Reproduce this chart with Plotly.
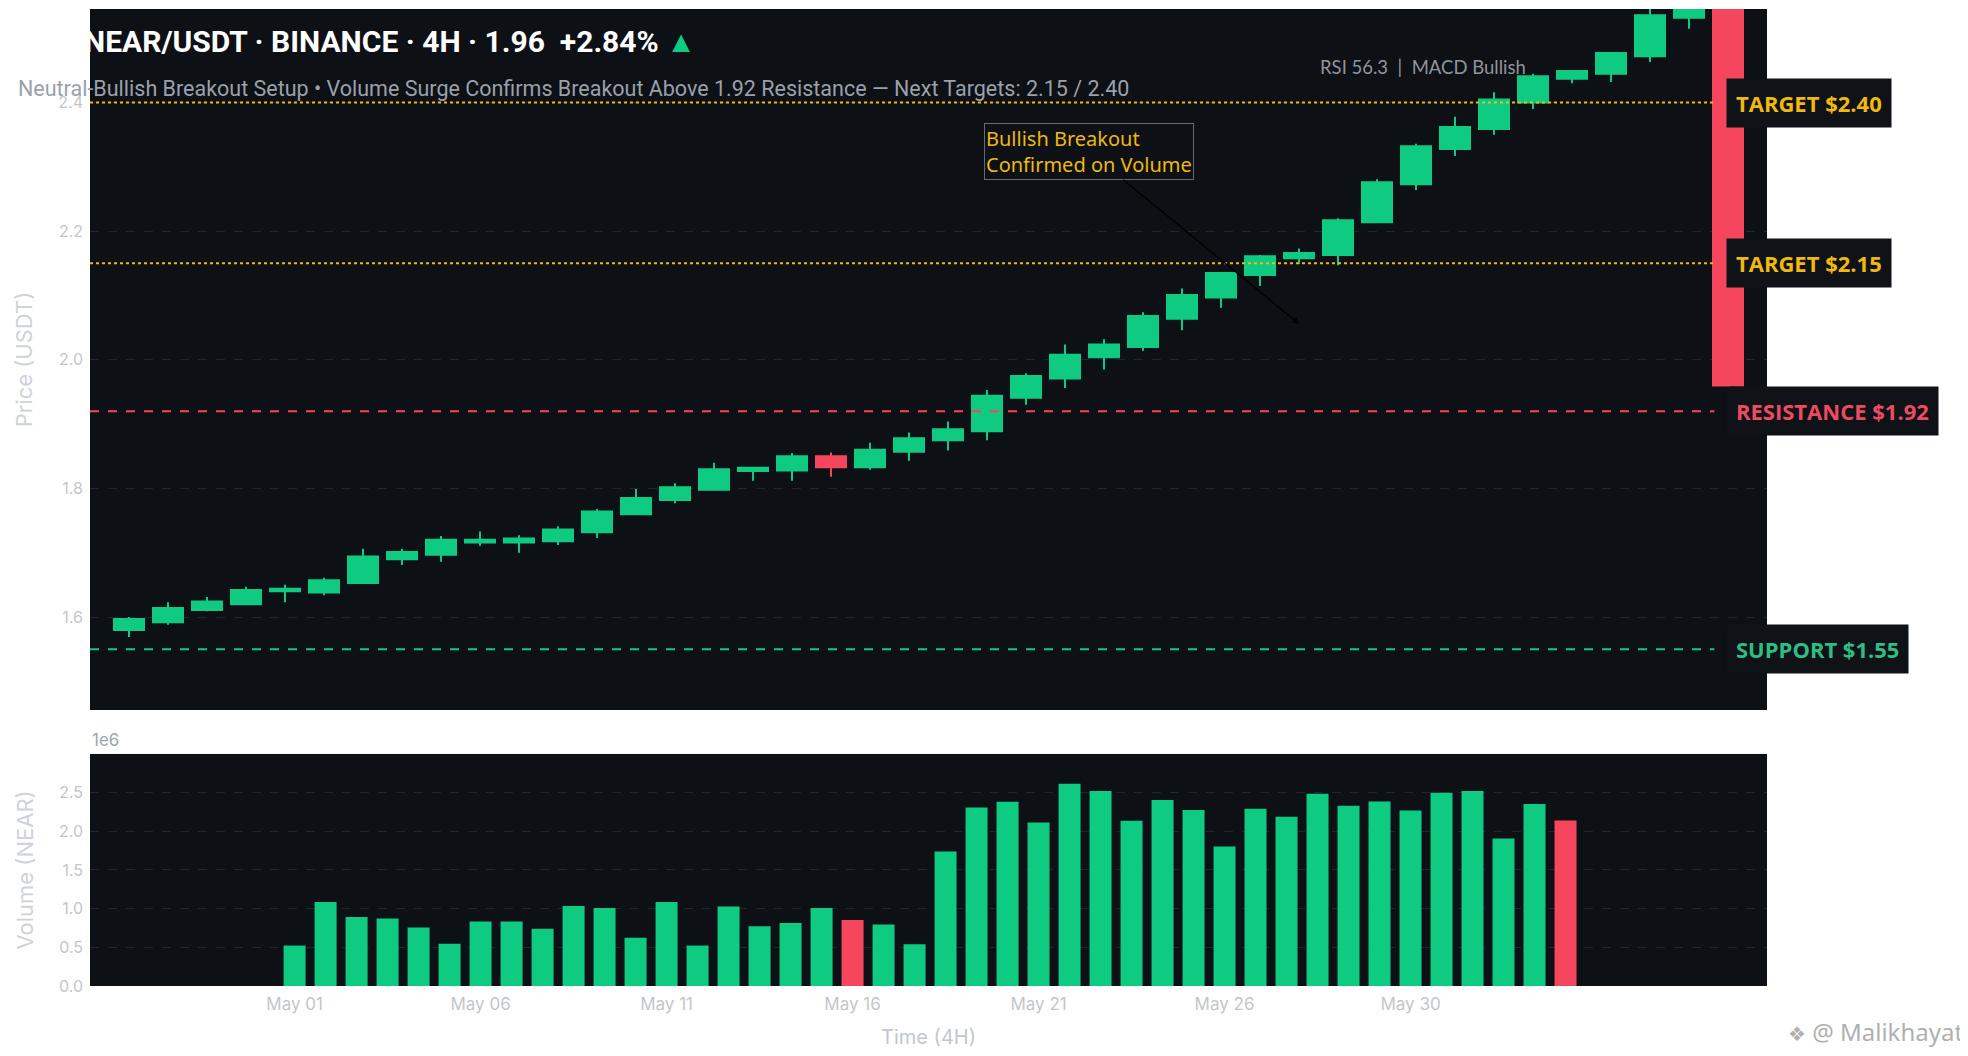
import plotly.graph_objects as go
from plotly.subplots import make_subplots

# 4H candles (index 0..41)
opens = [1.580, 1.592, 1.611, 1.620, 1.640, 1.638, 1.653, 1.690, 1.697, 1.716,
         1.716, 1.718, 1.732, 1.760, 1.782, 1.798, 1.827, 1.828, 1.850, 1.833,
         1.857, 1.875, 1.889, 1.941, 1.971, 2.004, 2.020, 2.064, 2.097, 2.132,
         2.158, 2.163, 2.214, 2.273, 2.328, 2.359, 2.400, 2.437, 2.445, 2.472,
         2.532, 2.620]
highs = [1.600, 1.623, 1.631, 1.647, 1.650, 1.661, 1.706, 1.706, 1.726, 1.733,
         1.727, 1.741, 1.768, 1.799, 1.808, 1.840, 1.833, 1.855, 1.856, 1.871,
         1.887, 1.904, 1.953, 1.979, 2.024, 2.032, 2.074, 2.111, 2.136, 2.163,
         2.173, 2.220, 2.281, 2.336, 2.378, 2.416, 2.445, 2.450, 2.478, 2.552,
         2.580, 2.630]
lows = [1.569, 1.588, 1.609, 1.619, 1.623, 1.634, 1.652, 1.681, 1.686, 1.711,
        1.700, 1.712, 1.723, 1.760, 1.777, 1.798, 1.812, 1.812, 1.818, 1.829,
        1.843, 1.859, 1.875, 1.930, 1.956, 1.985, 2.014, 2.046, 2.081, 2.115,
        2.149, 2.147, 2.213, 2.264, 2.317, 2.350, 2.390, 2.430, 2.432, 2.463,
        2.515, 1.955]
closes = [1.597, 1.614, 1.624, 1.642, 1.644, 1.657, 1.694, 1.701, 1.720, 1.720,
          1.722, 1.736, 1.764, 1.785, 1.802, 1.830, 1.832, 1.850, 1.833, 1.860,
          1.878, 1.892, 1.944, 1.975, 2.008, 2.024, 2.068, 2.101, 2.135, 2.161,
          2.166, 2.217, 2.276, 2.332, 2.362, 2.405, 2.441, 2.449, 2.477, 2.536,
          2.565, 1.960]
# volume in millions (axis shows 1e6 offset)
volumes = [0.523, 1.085, 0.891, 0.873, 0.757, 0.545, 0.834, 0.834, 0.739, 1.033,
           1.007, 0.623, 1.085, 0.523, 1.029, 0.774, 0.813, 1.007, 0.852, 0.795,
           0.541, 1.738, 2.309, 2.382, 2.114, 2.616, 2.520, 2.136, 2.404, 2.274,
           1.803, 2.291, 2.188, 2.486, 2.330, 2.386, 2.270, 2.499, 2.520, 1.907,
           2.352, 2.140]
candle_idx = list(range(len(closes)))

tick_pos = [0, 6, 12, 18, 24, 30, 36]
tick_labels = ["May 01", "May 06", "May 11", "May 16", "May 21", "May 26", "May 30"]

levels = [2.40, 2.15, 1.92, 1.55]
level_names = ["TARGET $2.40", "TARGET $2.15", "RESISTANCE $1.92", "SUPPORT $1.55"]

GREEN = "#0ECB81"
RED = "#F6465D"
GOLD = "#F0B90B"
BG = "#0d1015"
GRID = "rgba(255,255,255,0.09)"
TICK = "#c3c6cb"

fig = make_subplots(rows=2, cols=1, shared_xaxes=False)

fig.add_trace(go.Candlestick(
    x=candle_idx, open=opens, high=highs, low=lows, close=closes,
    increasing=dict(line=dict(color=GREEN, width=2), fillcolor=GREEN),
    decreasing=dict(line=dict(color=RED, width=2), fillcolor=RED),
    showlegend=False, hoverinfo="skip",
), row=1, col=1)

vol_colors = [GREEN if c >= o else RED for o, c in zip(opens, closes)]
fig.add_trace(go.Bar(
    x=candle_idx, y=volumes, marker=dict(color=vol_colors, line=dict(width=0)),
    width=0.71, showlegend=False,
), row=2, col=1)

# level lines
line_styles = [(GOLD, "dot"), (GOLD, "dot"), (RED, "dash"), (GREEN, "dash")]
label_colors = [GOLD, GOLD, "#EE4B63", "#2EBD85"]
for lv, (col, dash) in zip(levels, line_styles):
    fig.add_shape(type="line", xref="x", yref="y", x0=-1, x1=40.65, y0=lv, y1=lv,
                  line=dict(color=col, width=2, dash=dash))
for lv, name, col in zip(levels, level_names, label_colors):
    fig.add_annotation(xref="paper", yref="y", x=0.9755, y=lv, xanchor="left",
                       yanchor="middle", text="<b>" + name + "</b>", showarrow=False,
                       bgcolor="#0f1216", borderpad=9,
                       font=dict(family="Open Sans", size=22, color=col))

# header texts
fig.add_annotation(xref="paper", yref="paper", x=-0.0045, y=0.967, xanchor="left",
                   yanchor="middle", showarrow=False,
                   text="<b>NEAR/USDT · BINANCE · 4H · 1.96  +2.84%</b> "
                        "<span style='color:" + GREEN + "'>▲</span>",
                   font=dict(family="Roboto", size=30, color="#ffffff"))
fig.add_annotation(xref="paper", yref="paper", x=-0.044, y=0.919, xanchor="left",
                   yanchor="middle", showarrow=False,
                   text="Neutral-Bullish Breakout Setup • Volume Surge Confirms Breakout "
                        "Above 1.92 Resistance — Next Targets: 2.15 / 2.40",
                   font=dict(family="Roboto", size=21.5, color="#9aa1aa"))
fig.add_annotation(xref="paper", yref="paper", x=0.732, y=0.9406, xanchor="left",
                   yanchor="middle", showarrow=False,
                   text="RSI 56.3  |  MACD Bullish",
                   font=dict(family="Lato", size=18.5, color="#8f959d"))

# breakout callout
fig.add_annotation(xref="x", yref="y", x=30, y=2.056, ax=-210, ay=-172,
                   text="Bullish Breakout<br>Confirmed on Volume", align="left",
                   showarrow=True, arrowhead=2, arrowsize=1, arrowwidth=1.3,
                   arrowcolor="#000000", bgcolor=BG, bordercolor="#656a72",
                   borderwidth=1, borderpad=1,
                   font=dict(family="Noto Sans", size=20, color=GOLD))

# volume offset text and watermark
fig.add_annotation(xref="paper", yref="paper", x=0.0, y=0.2518, xanchor="left",
                   yanchor="middle", showarrow=False, text="1e6",
                   font=dict(family="Inter", size=17, color="#a0a6ad"))
fig.add_annotation(xref="paper", yref="paper", x=1.118, y=-0.047, xanchor="right",
                   yanchor="middle", showarrow=False,
                   text="<span style='font-family:DejaVu Sans;font-size:20px'>❖</span> @ Malikhayat",
                   font=dict(family="Noto Sans", size=24, color="#b0b0b0"))

fig.update_layout(
    width=1968, height=1056,
    paper_bgcolor="#ffffff", plot_bgcolor=BG,
    margin=dict(l=82, r=209, t=1, b=78),
    boxgap=0.23, boxgroupgap=0,
    font=dict(family="Inter", color=TICK),
    xaxis=dict(domain=[0, 1], range=[-1, 42], showticklabels=False, showgrid=False,
               zeroline=False, rangeslider=dict(visible=False), ticks=""),
    yaxis=dict(domain=[0.2825, 1], range=[1.4554, 2.5456], tickvals=[1.6, 1.8, 2.0, 2.2, 2.4],
               tickformat=".1f", showgrid=True, gridcolor=GRID, griddash="dash",
               zeroline=False, tickfont=dict(size=16, color=TICK), ticklabelstandoff=6,
               title=dict(text="Price (USDT)", standoff=19,
                          font=dict(size=22, color="#cfd3d8"))),
    xaxis2=dict(domain=[0, 1], range=[-6.6, 47.5], tickvals=tick_pos, ticktext=tick_labels,
                showgrid=False, zeroline=False, tickfont=dict(size=17, color=TICK),
                ticklabelstandoff=6,
                title=dict(text="Time (4H)", standoff=16,
                           font=dict(size=20, color="#c3c7cc"))),
    yaxis2=dict(domain=[0, 0.2375], range=[0, 3.0], tickvals=[0, 0.5, 1.0, 1.5, 2.0, 2.5],
                tickformat=".1f", showgrid=True, gridcolor=GRID, griddash="dash",
                zeroline=False, tickfont=dict(size=16, color=TICK), ticklabelstandoff=6,
                title=dict(text="Volume (NEAR)", standoff=19,
                           font=dict(size=22, color="#cfd3d8"))),
)

fig.write_html("out.html")
